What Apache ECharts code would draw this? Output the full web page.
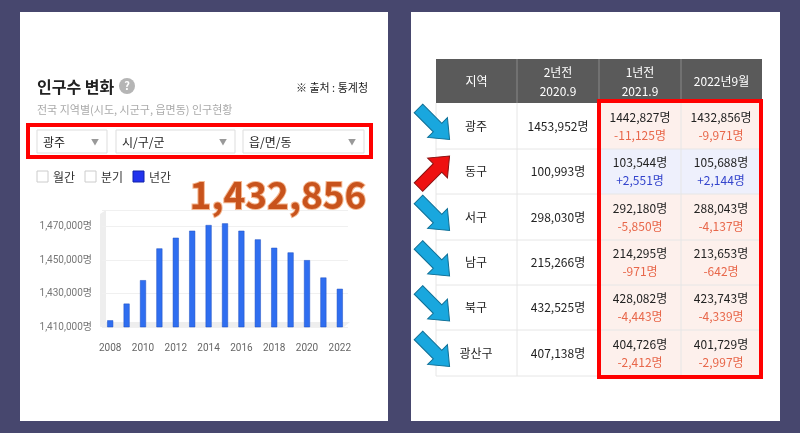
<!DOCTYPE html>
<html><head><meta charset="utf-8">
<script src="https://cdn.jsdelivr.net/npm/echarts@6/dist/echarts.min.js"></script>
<style>
html,body{margin:0;padding:0;background:#47476e}
.panel{position:absolute;top:12px;height:409px;background:#fff}
#c{position:absolute;left:0;top:0;width:800px;height:433px}
</style>
</head><body>
<div class="panel" style="left:20px;width:368px"></div>
<div class="panel" style="left:411px;width:369px"></div>
<div id="c"></div>
<script>
// yearly population (광주)
var years = ['2008','2009','2010','2011','2012','2013','2014','2015','2016','2017','2018','2019','2020','2021','2022'];
var population = [1414000,1424000,1438000,1457000,1463400,1467600,1471000,1472000,1467600,1462400,1457400,1454600,1450000,1439600,1432856];

// table
var headers = [['지역'], ['2년전', '2020.9'], ['1년전', '2021.9'], ['2022년9월']];
var regions = ['광주', '동구', '서구', '남구', '북구', '광산구'];
var pop2020 = ['1453,952명', '100,993명', '298,030명', '215,266명', '432,525명', '407,138명'];
var pop2021 = ['1442,827명', '103,544명', '292,180명', '214,295명', '428,082명', '404,726명'];
var diff2021 = ['-11,125명', '+2,551명', '-5,850명', '-971명', '-4,443명', '-2,412명'];
var pop2022 = ['1432,856명', '105,688명', '288,043명', '213,653명', '423,743명', '401,729명'];
var diff2022 = ['-9,971명', '+2,144명', '-4,137명', '-642명', '-4,339명', '-2,997명'];
var trend = ['down', 'up', 'down', 'down', 'down', 'down'];

var FONT = '"Noto Sans CJK KR", sans-serif';
var g = [];
function rect(x, y, w, h, fill, stroke, lw, z) {
    g.push({type: 'rect', shape: {x: x, y: y, width: w, height: h}, z: z || 1,
        style: {fill: fill || 'none', stroke: stroke || null, lineWidth: lw || 0}});
}
function text(x, y, s, size, color, align, weight, z) {
    g.push({type: 'text', x: x, y: y, z: z || 5, style: {text: s, fontSize: size, fill: color,
        fontFamily: FONT, align: align || 'left', verticalAlign: 'middle', fontWeight: weight || 'normal'}});
}

// left header
text(37, 87, '인구수 변화', 16, '#222', 'left', 'bold');
g.push({type: 'circle', shape: {cx: 127, cy: 86, r: 8}, style: {fill: '#b5b5b5'}, z: 3});
text(127, 86, '?', 11, '#fff', 'center', 'bold');
text(368, 88, '※ 출처 : 통계청', 11, '#222', 'right');
text(37, 110, '전국 지역별(시도, 시군구, 읍면동) 인구현황', 11, '#aaa');

// dropdowns
var drops = [[37, 70, '광주'], [116, 119, '시/구/군'], [243, 121, '읍/면/동']];
drops.forEach(function (d) {
    rect(d[0], 130, d[1], 23, '#fff', '#ddd', 1, 2);
    text(d[0] + 6, 142, d[2], 12, '#222');
    text(d[0] + d[1] - 8, 142, '▼', 8, '#999', 'right');
});
rect(28, 125, 343, 32, null, '#f00', 4, 4);

// period checkboxes
var checks = [[37, '월간', false], [85, '분기', false], [133, '년간', true]];
checks.forEach(function (c) {
    rect(c[0], 171, 11, 11, c[2] ? '#2233ee' : '#fff', c[2] ? '#1122aa' : '#ccc', 1, 3);
    text(c[0] + 16, 177, c[1], 12, '#333');
});

// big number
g.push({type: 'text', x: 278, y: 195, z: 6, style: {text: '1,432,856', fontSize: 37, fontWeight: 'bold',
    fontFamily: FONT, fill: '#c8531c', stroke: '#f4b892', lineWidth: 2,
    align: 'center', verticalAlign: 'middle'}});

// 3D-ish back plane
g.push({type: 'polygon', shape: {points: [[100, 214], [106, 210], [106, 322], [100, 327]]}, style: {fill: '#eee'}, z: -1});
g.push({type: 'polygon', shape: {points: [[100, 327], [106, 322], [350, 322], [344, 327]]}, style: {fill: '#eee'}, z: -1});

// table
var colX = [436, 517, 599, 681, 762];
var rowY = [103, 149, 194, 240, 285, 330, 376];
rect(436, 59, 326, 44, '#5a5a5a', null, 0, 1);
for (var i = 0; i < 4; i++) {
    var cx = (colX[i] + colX[i + 1]) / 2;
    if (i > 0) g.push({type: 'line', shape: {x1: colX[i], y1: 59, x2: colX[i], y2: 103}, style: {stroke: '#888', lineWidth: 1}, z: 2});
    if (headers[i].length === 1) text(cx, 81, headers[i][0], 12, '#fff', 'center');
    else { text(cx, 72, headers[i][0], 12, '#fff', 'center'); text(cx, 91, headers[i][1], 12, '#fff', 'center'); }
}
regions.forEach(function (r, k) {
    var y0 = rowY[k], y1 = rowY[k + 1], ym = (y0 + y1) / 2;
    var bg = trend[k] === 'up' ? '#eef0fc' : '#fdf0ec';
    rect(colX[2], y0, colX[4] - colX[2], y1 - y0, bg, null, 0, 1);
    g.push({type: 'line', shape: {x1: 436, y1: y1, x2: 762, y2: y1}, style: {stroke: '#e6e6e6', lineWidth: 1}, z: 2});
    text(476, ym, r, 12, '#222', 'center');
    text(558, ym, pop2020[k], 12, '#222', 'center');
    var dc = trend[k] === 'up' ? '#3344cc' : '#e8674a';
    text(640, ym - 9, pop2021[k], 12, '#222', 'center');
    text(640, ym + 9, diff2021[k], 12, dc, 'center');
    text(721, ym - 9, pop2022[k], 12, '#222', 'center');
    text(721, ym + 9, diff2022[k], 12, dc, 'center');
    // arrow
    var up = trend[k] === 'up';
    g.push({type: 'polygon', x: 434, y: ym + (up ? 0 : -2), rotation: up ? Math.PI / 4 : -Math.PI / 4, z: 6,
        shape: {points: [[-22, -6], [5, -6], [5, -14], [22, 0], [5, 14], [5, 6], [-22, 6]]},
        style: {fill: up ? '#ee1111' : '#19a7de', stroke: up ? '#881111' : '#0f6f96', lineWidth: 1}});
});
for (var j = 1; j < 4; j++) g.push({type: 'line', shape: {x1: colX[j], y1: 103, x2: colX[j], y2: 376}, style: {stroke: '#e6e6e6', lineWidth: 1}, z: 2});
g.push({type: 'line', shape: {x1: 436, y1: 103, x2: 436, y2: 376}, style: {stroke: '#e6e6e6', lineWidth: 1}, z: 2});
rect(599, 101, 162, 276, null, '#f00', 4, 7);

var option = {
    animation: false,
    graphic: g,
    grid: {left: 102, top: 210, width: 246, height: 117},
    xAxis: {
        type: 'category', data: years,
        axisLine: {show: false}, axisTick: {show: false},
        axisLabel: {interval: 1, color: '#666', fontSize: 10, fontFamily: 'Roboto, sans-serif', margin: 16}
    },
    yAxis: {
        type: 'value', min: 1410000, max: 1480000, interval: 20000,
        axisLine: {show: false}, axisTick: {show: false},
        splitLine: {lineStyle: {color: '#f0f0f0'}},
        axisLabel: {color: '#777', fontSize: 10, fontFamily: 'Roboto, "Noto Sans CJK KR", sans-serif',
            margin: 10, padding: [14, 0, 0, 0],
            formatter: function (v) { return v >= 1480000 ? '' : v.toLocaleString('en-US') + '명'; }}
    },
    series: [{
        type: 'bar', data: population, barWidth: 6,
        itemStyle: {color: '#2f6ef0', borderColor: '#1d4fc0', borderWidth: 0.5},
        z: 3
    }]
};
var chart = echarts.init(document.getElementById('c'));
chart.setOption(option);
</script></body></html>
